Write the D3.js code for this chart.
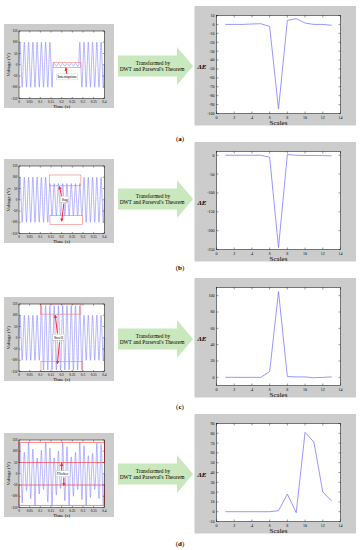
<!DOCTYPE html>
<html>
<head>
    <title>DWT energy difference</title>
    <script src="https://d3js.org/d3.v7.min.js"></script>
    <style>
        body { margin: 0; background: #fff; }
        text { font-family: "Liberation Serif", "Times New Roman", serif; }
    </style>
</head>
<body>
    <div id="chart"></div>
    <script>
        // ---- data ----
        const panelIds = ["a", "b", "c", "d"];
        const eventNames = ["Interruption", "Sag", "Swell", "Flicker"];

        // per-cycle peak voltages of the 50 Hz waveform (20 cycles in 0.4 s)
        const interruptionPos = [100,100,100,100,100,100,100,100,6,6,6,6,6,6,100,100,100,100,100,100];
        const sagPos          = [100,100,100,100,100,100,100,72,72,72,72,72,72,72,72,100,100,100,100,100];
        const swellPos        = [100,100,100,100,100,143,143,143,143,143,143,143,143,143,143,100,100,100,100,100];
        const flickerPos      = [135,95,140,110,70,105,140,115,70,100,140,120,75,95,140,125,80,90,135,130];
        const flickerNeg      = [-130,-75,-110,-140,-90,-70,-125,-140,-95,-65,-120,-140,-100,-70,-115,-140,-105,-70,-110,-140];

        const timeTicks = [0, 0.05, 0.1, 0.15, 0.2, 0.25, 0.3, 0.35, 0.4];
        const voltTicks = [150, 100, 50, 0, -50, -100, -150];

        // red boxes: [t0, t1, vTop, vBottom]
        const redBoxes = [
            [[0.16, 0.29, 10, -12]],
            [[0.142, 0.29, 110, 62], [0.145, 0.298, -70, -110]],
            [[0.1, 0.29, 150, 105], [0.103, 0.298, -105, -150]],
            [[0, 0.4, 140, 50], [0, 0.4, -50, -140]]
        ];
        // red arrows from label: [t0, v0, t1, v1]
        const redArrows = [
            [[0.225, -48, 0.22, -14]],
            [[0.2, 12, 0.19, 58]],
            [[0.18, 20, 0.17, 100]],
            [[0.2, 10, 0.2, 47]]
        ];
        const redArrowsDown = [
            [],
            [[0.21, -18, 0.2, -95]],
            [[0.19, -20, 0.18, -115]],
            [[0.21, -18, 0.21, -52]]
        ];
        const labelPos = [[0.225, -55], [0.215, 2], [0.185, 2], [0.205, 0]];

        const scales = [1,2,3,4,5,6,7,8,9,10,11,12,13];
        const dEInterruption = [0,0,0,0.5,0.8,-2.3,-95,4.5,6.5,1.5,0,0,-1];
        const dESag          = [0,0,0,0,0,-5,-245,2,0,-0.5,-0.5,-1,-1.5];
        const dESwell        = [0,0,0,0,0,7,105,1,0.5,0.5,-0.5,0,0.5];
        const dEFlicker      = [0,0,0,0,0,0,1,18,-1,81,71,20,11];
        const scaleTicks = [0,2,4,6,8,10,12,14];

        const dESeries = [dEInterruption, dESag, dESwell, dEFlicker];
        const dEDomains = [[-100, 10], [-250, 10], [-10, 110], [-10, 90]];
        const dETicks = [
            [10,0,-10,-20,-30,-40,-50,-60,-70,-80,-90,-100],
            [0,-50,-100,-150,-200,-250],
            [0,20,40,60,80,100],
            [90,80,70,60,50,40,30,20,10,0,-10]
        ];

        // ---- layout ----
        const leftTop = [24, 159, 297, 433];
        const rightTop = [6, 142, 278, 414];
        const arrowMid = [66, 199, 339, 474];
        const captionY = [141, 270, 409, 546];

        const blue = "#7b7bff";
        const red = "#ff2a2a";
        const boxRed = "#f47a7a";

        const svg = d3.select("#chart")
            .append("svg")
            .attr("width", 360)
            .attr("height", 550);

        function waveData(pos, neg) {
            const pts = [];
            pos.forEach((p, k) => {
                const t = k * 0.02;
                pts.push([t, 0], [t + 0.005, p], [t + 0.01, 0], [t + 0.015, neg ? neg[k] : -p]);
            });
            pts.push([0.4, 0]);
            return pts;
        }

        const waves = [
            waveData(interruptionPos),
            waveData(sagPos),
            waveData(swellPos),
            waveData(flickerPos, flickerNeg)
        ];

        svg.append("defs").append("marker")
            .attr("id", "redhead")
            .attr("viewBox", "0 0 10 10")
            .attr("refX", 8).attr("refY", 5)
            .attr("markerWidth", 3.5).attr("markerHeight", 3.5)
            .attr("orient", "auto")
            .append("path")
            .attr("d", "M0,0L10,5L0,10Z")
            .attr("fill", red);

        function ticksInside(g, x, y, xt, yt, len) {
            const [x0, x1] = x.range();
            const [y0, y1] = y.range();
            xt.forEach(t => {
                g.append("line").attr("x1", x(t)).attr("x2", x(t)).attr("y1", y0).attr("y2", y0 - len);
                g.append("line").attr("x1", x(t)).attr("x2", x(t)).attr("y1", y1).attr("y2", y1 + len);
            });
            yt.forEach(t => {
                g.append("line").attr("x1", x0).attr("x2", x0 + len).attr("y1", y(t)).attr("y2", y(t));
                g.append("line").attr("x1", x1).attr("x2", x1 - len).attr("y1", y(t)).attr("y2", y(t));
            });
            g.selectAll("line").attr("stroke", "#000").attr("stroke-width", 0.4);
        }

        panelIds.forEach((id, i) => {
            // ---- left waveform panel ----
            const lt = leftTop[i];
            const L = svg.append("g");
            L.append("rect").attr("x", 4).attr("y", lt).attr("width", 110).attr("height", 84).attr("fill", "#cccccc");

            const x = d3.scaleLinear().domain([0, 0.4]).range([19, 104.3]);
            const y = d3.scaleLinear().domain([-150, 150]).range([lt + 74.5, lt + 7]);

            L.append("rect").attr("x", 19).attr("y", y(150)).attr("width", 85.3).attr("height", y(-150) - y(150))
                .attr("fill", "#fff");

            const line = d3.line().x(d => x(d[0])).y(d => y(d[1])).curve(d3.curveMonotoneX);
            L.append("path").datum(waves[i]).attr("d", line)
                .attr("fill", "none").attr("stroke", blue).attr("stroke-width", 0.55);

            redBoxes[i].forEach(b => {
                L.append("rect").attr("x", x(b[0])).attr("y", y(b[2]))
                    .attr("width", x(b[1]) - x(b[0])).attr("height", y(b[3]) - y(b[2]))
                    .attr("fill", "none").attr("stroke", i === 3 ? red : boxRed).attr("stroke-width", 0.6);
            });

            L.append("rect").attr("x", 19).attr("y", y(150)).attr("width", 85.3).attr("height", y(-150) - y(150))
                .attr("fill", "none").attr("stroke", "#000").attr("stroke-width", 0.5);

            const tg = L.append("g");
            ticksInside(tg, x, y, timeTicks, voltTicks, 1.5);

            L.selectAll(".yl").data(voltTicks).enter().append("text")
                .attr("x", 17.5).attr("y", d => y(d) + 1.2)
                .attr("text-anchor", "end").attr("font-size", 3.4).text(d => d);
            L.selectAll(".xl").data(timeTicks).enter().append("text")
                .attr("x", d => x(d)).attr("y", y(-150) + 4.5)
                .attr("text-anchor", "middle").attr("font-size", 3.4).text(d => d);

            L.append("text").attr("x", (19 + 104.3) / 2).attr("y", y(-150) + 9)
                .attr("text-anchor", "middle").attr("font-size", 5).text("Time (s)");
            L.append("text")
                .attr("transform", `translate(9.5,${(y(150) + y(-150)) / 2}) rotate(-90)`)
                .attr("text-anchor", "middle").attr("font-size", 5).text("Voltage (V)");

            // labelled red arrows
            redArrows[i].concat(redArrowsDown[i]).forEach(a => {
                L.append("line").attr("x1", x(a[0])).attr("y1", y(a[1]))
                    .attr("x2", x(a[2])).attr("y2", y(a[3]))
                    .attr("stroke", red).attr("stroke-width", 1)
                    .attr("marker-end", "url(#redhead)");
            });
            const lp = labelPos[i];
            const lbl = L.append("text").attr("x", x(lp[0])).attr("y", y(lp[1]) + 1.3)
                .attr("text-anchor", "middle").attr("font-size", 4).text(eventNames[i]);
            const bb = lbl.node().getBBox();
            L.insert("rect", "text:last-of-type")
                .attr("x", bb.x - 1).attr("y", bb.y - 0.5)
                .attr("width", bb.width + 2).attr("height", bb.height + 1)
                .attr("fill", "#fff").attr("stroke", "#888").attr("stroke-width", 0.2);
            lbl.raise();

            // ---- green arrow ----
            const m = arrowMid[i];
            const A = svg.append("g");
            A.append("path")
                .attr("d", `M118,${m - 10.5}L177,${m - 10.5}L177,${m - 19}L193,${m}L177,${m + 19}L177,${m + 10.5}L118,${m + 10.5}Z`)
                .attr("fill", "#c9e8bd");
            A.append("text").attr("x", 153).attr("y", m - 1.5).attr("text-anchor", "middle")
                .attr("font-size", 5.4).text("Transformed by");
            A.append("text").attr("x", 152).attr("y", m + 5).attr("text-anchor", "middle")
                .attr("font-size", 5.4).text("DWT and Parseval's Theorem");

            // ---- right ΔE panel ----
            const rt = rightTop[i];
            const R = svg.append("g");
            R.append("rect").attr("x", 194.5).attr("y", rt).attr("width", 161.5).attr("height", 119.5).attr("fill", "#cccccc");

            const xs = d3.scaleLinear().domain([0, 14]).range([216.5, 340.5]);
            const ys = d3.scaleLinear().domain(dEDomains[i]).range([rt + 107.5, rt + 9.5]);

            R.append("rect").attr("x", 216.5).attr("y", rt + 9.5).attr("width", 124).attr("height", 98)
                .attr("fill", "#fff").attr("stroke", "#000").attr("stroke-width", 0.5);

            const rg = R.append("g");
            ticksInside(rg, xs, ys, scaleTicks, dETicks[i], 2);

            const dl = d3.line().x((d, k) => xs(scales[k])).y(d => ys(d));
            R.append("path").datum(dESeries[i]).attr("d", dl)
                .attr("fill", "none").attr("stroke", blue).attr("stroke-width", 0.8);

            R.selectAll(".yl").data(dETicks[i]).enter().append("text")
                .attr("x", 214.5).attr("y", d => ys(d) + 1.4)
                .attr("text-anchor", "end").attr("font-size", 4).text(d => d);
            R.selectAll(".xl").data(scaleTicks).enter().append("text")
                .attr("x", d => xs(d)).attr("y", rt + 113)
                .attr("text-anchor", "middle").attr("font-size", 4).text(d => d);

            R.append("text").attr("x", 278.5).attr("y", rt + 118.5)
                .attr("text-anchor", "middle").attr("font-size", 7).text("Scales");
            R.append("text").attr("x", 202).attr("y", rt + 63)
                .attr("text-anchor", "middle").attr("font-size", 7)
                .attr("font-style", "italic").attr("font-weight", "bold").text("ΔE");

            // caption
            svg.append("text").attr("x", 180).attr("y", captionY[i])
                .attr("text-anchor", "middle").attr("font-size", 7)
                .attr("font-family", "Liberation Sans, Arial, sans-serif")
                .html(`(<tspan font-weight="bold">${id}</tspan>)`);
        });
    </script>
</body>
</html>
